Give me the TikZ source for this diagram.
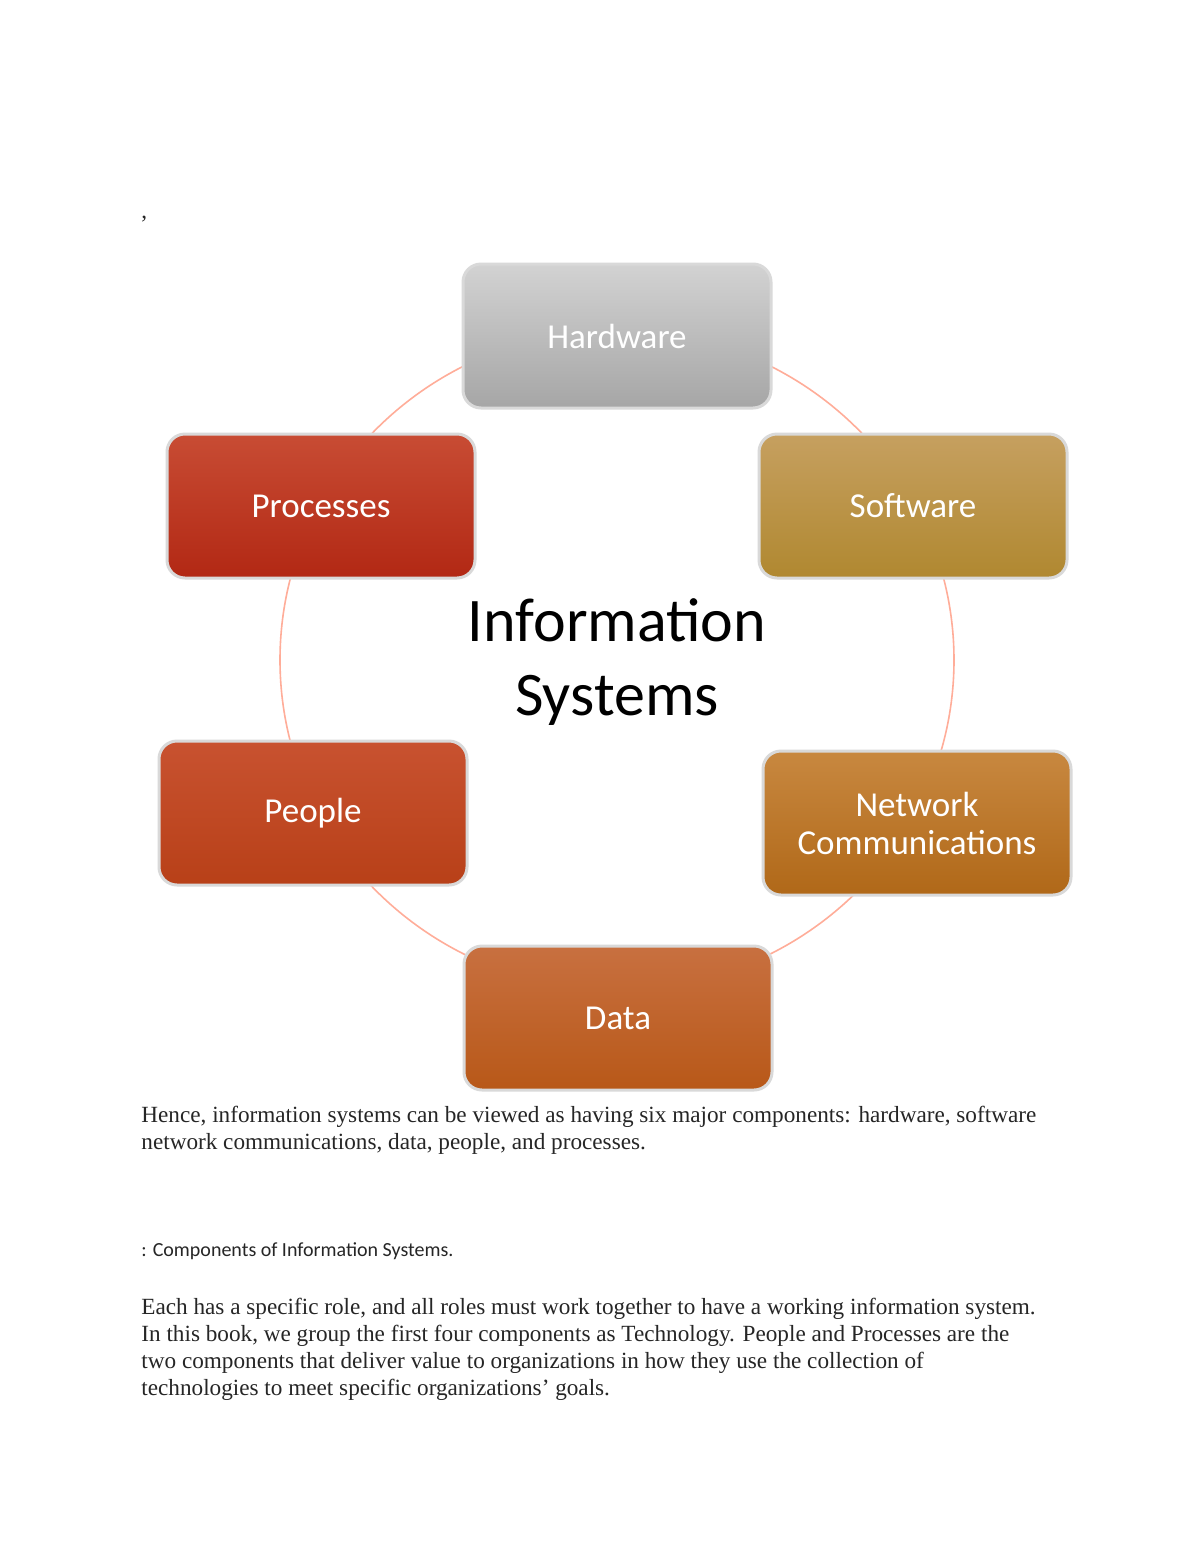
\documentclass[tikz,border=0pt]{standalone}
\usepackage{fontspec}
\setmainfont{Liberation Serif}
\newfontfamily\calfont{Carlito}
\begin{document}
\begin{tikzpicture}[x=0.5pt,y=-0.5pt,
 box/.style={rounded corners=9pt,minimum width=154pt,minimum height=72pt,draw=white!85!black,line width=1.5pt,text=white,font=\calfont\fontsize{17.5}{20}\selectfont,align=center},
 body/.style={anchor=base west,inner sep=0,font=\fontsize{11.6}{13}\selectfont,text=black!85}]
\useasboundingbox (0,0) rectangle (1200,1553);
\fill[white] (0,0) rectangle (1200,1553);
\node[body] (comma) at (141,218) {,};
\coordinate (c) at (617,660);
\draw[color=orange!40!red!40,line width=0.8pt] (c) ellipse [x radius=337,y radius=330];
\node[box,top color=gray!35,bottom color=gray!70] (hw) at (617,336) {Hardware};
\node[box,top color={rgb,255:red,198;green,160;blue,96},bottom color={rgb,255:red,176;green,136;blue,48}] (sw) at (913,506) {Software};
\node[box,top color={rgb,255:red,200;green,76;blue,52},bottom color={rgb,255:red,178;green,40;blue,20}] (pr) at (321,506) {Processes};
\node[box,top color={rgb,255:red,200;green,82;blue,48},bottom color={rgb,255:red,184;green,64;blue,24}] (pe) at (313,813) {People};
\node[box,top color={rgb,255:red,200;green,136;blue,64},bottom color={rgb,255:red,176;green,104;blue,24}] (nw) at (917,823) {Network\\[-1pt]Communications};
\node[box,top color={rgb,255:red,200;green,112;blue,64},bottom color={rgb,255:red,184;green,88;blue,24}] (da) at (618,1018) {Data};
\node[font=\calfont\fontsize{31}{37}\selectfont,align=center] (is) at (617,662) {Information\\Systems};
\node[body] (b1) at (141,1122) {Hence, information systems can be viewed as having six major components: hardware, software};
\node[body] (b2) at (141,1149) {network communications, data, people, and processes.};
\node[body,font=\calfont\fontsize{10}{12}\selectfont] (cap) at (141,1256) {: Components of Information Systems.};
\node[body] (b3) at (141,1314) {Each has a specific role, and all roles must work together to have a working information system.};
\node[body] (b4) at (141,1341) {In this book, we group the first four components as Technology. People and Processes are the};
\node[body] (b5) at (141,1368) {two components that deliver value to organizations in how they use the collection of};
\node[body] (b6) at (141,1395) {technologies to meet specific organizations’ goals.};
\end{tikzpicture}
\end{document}
